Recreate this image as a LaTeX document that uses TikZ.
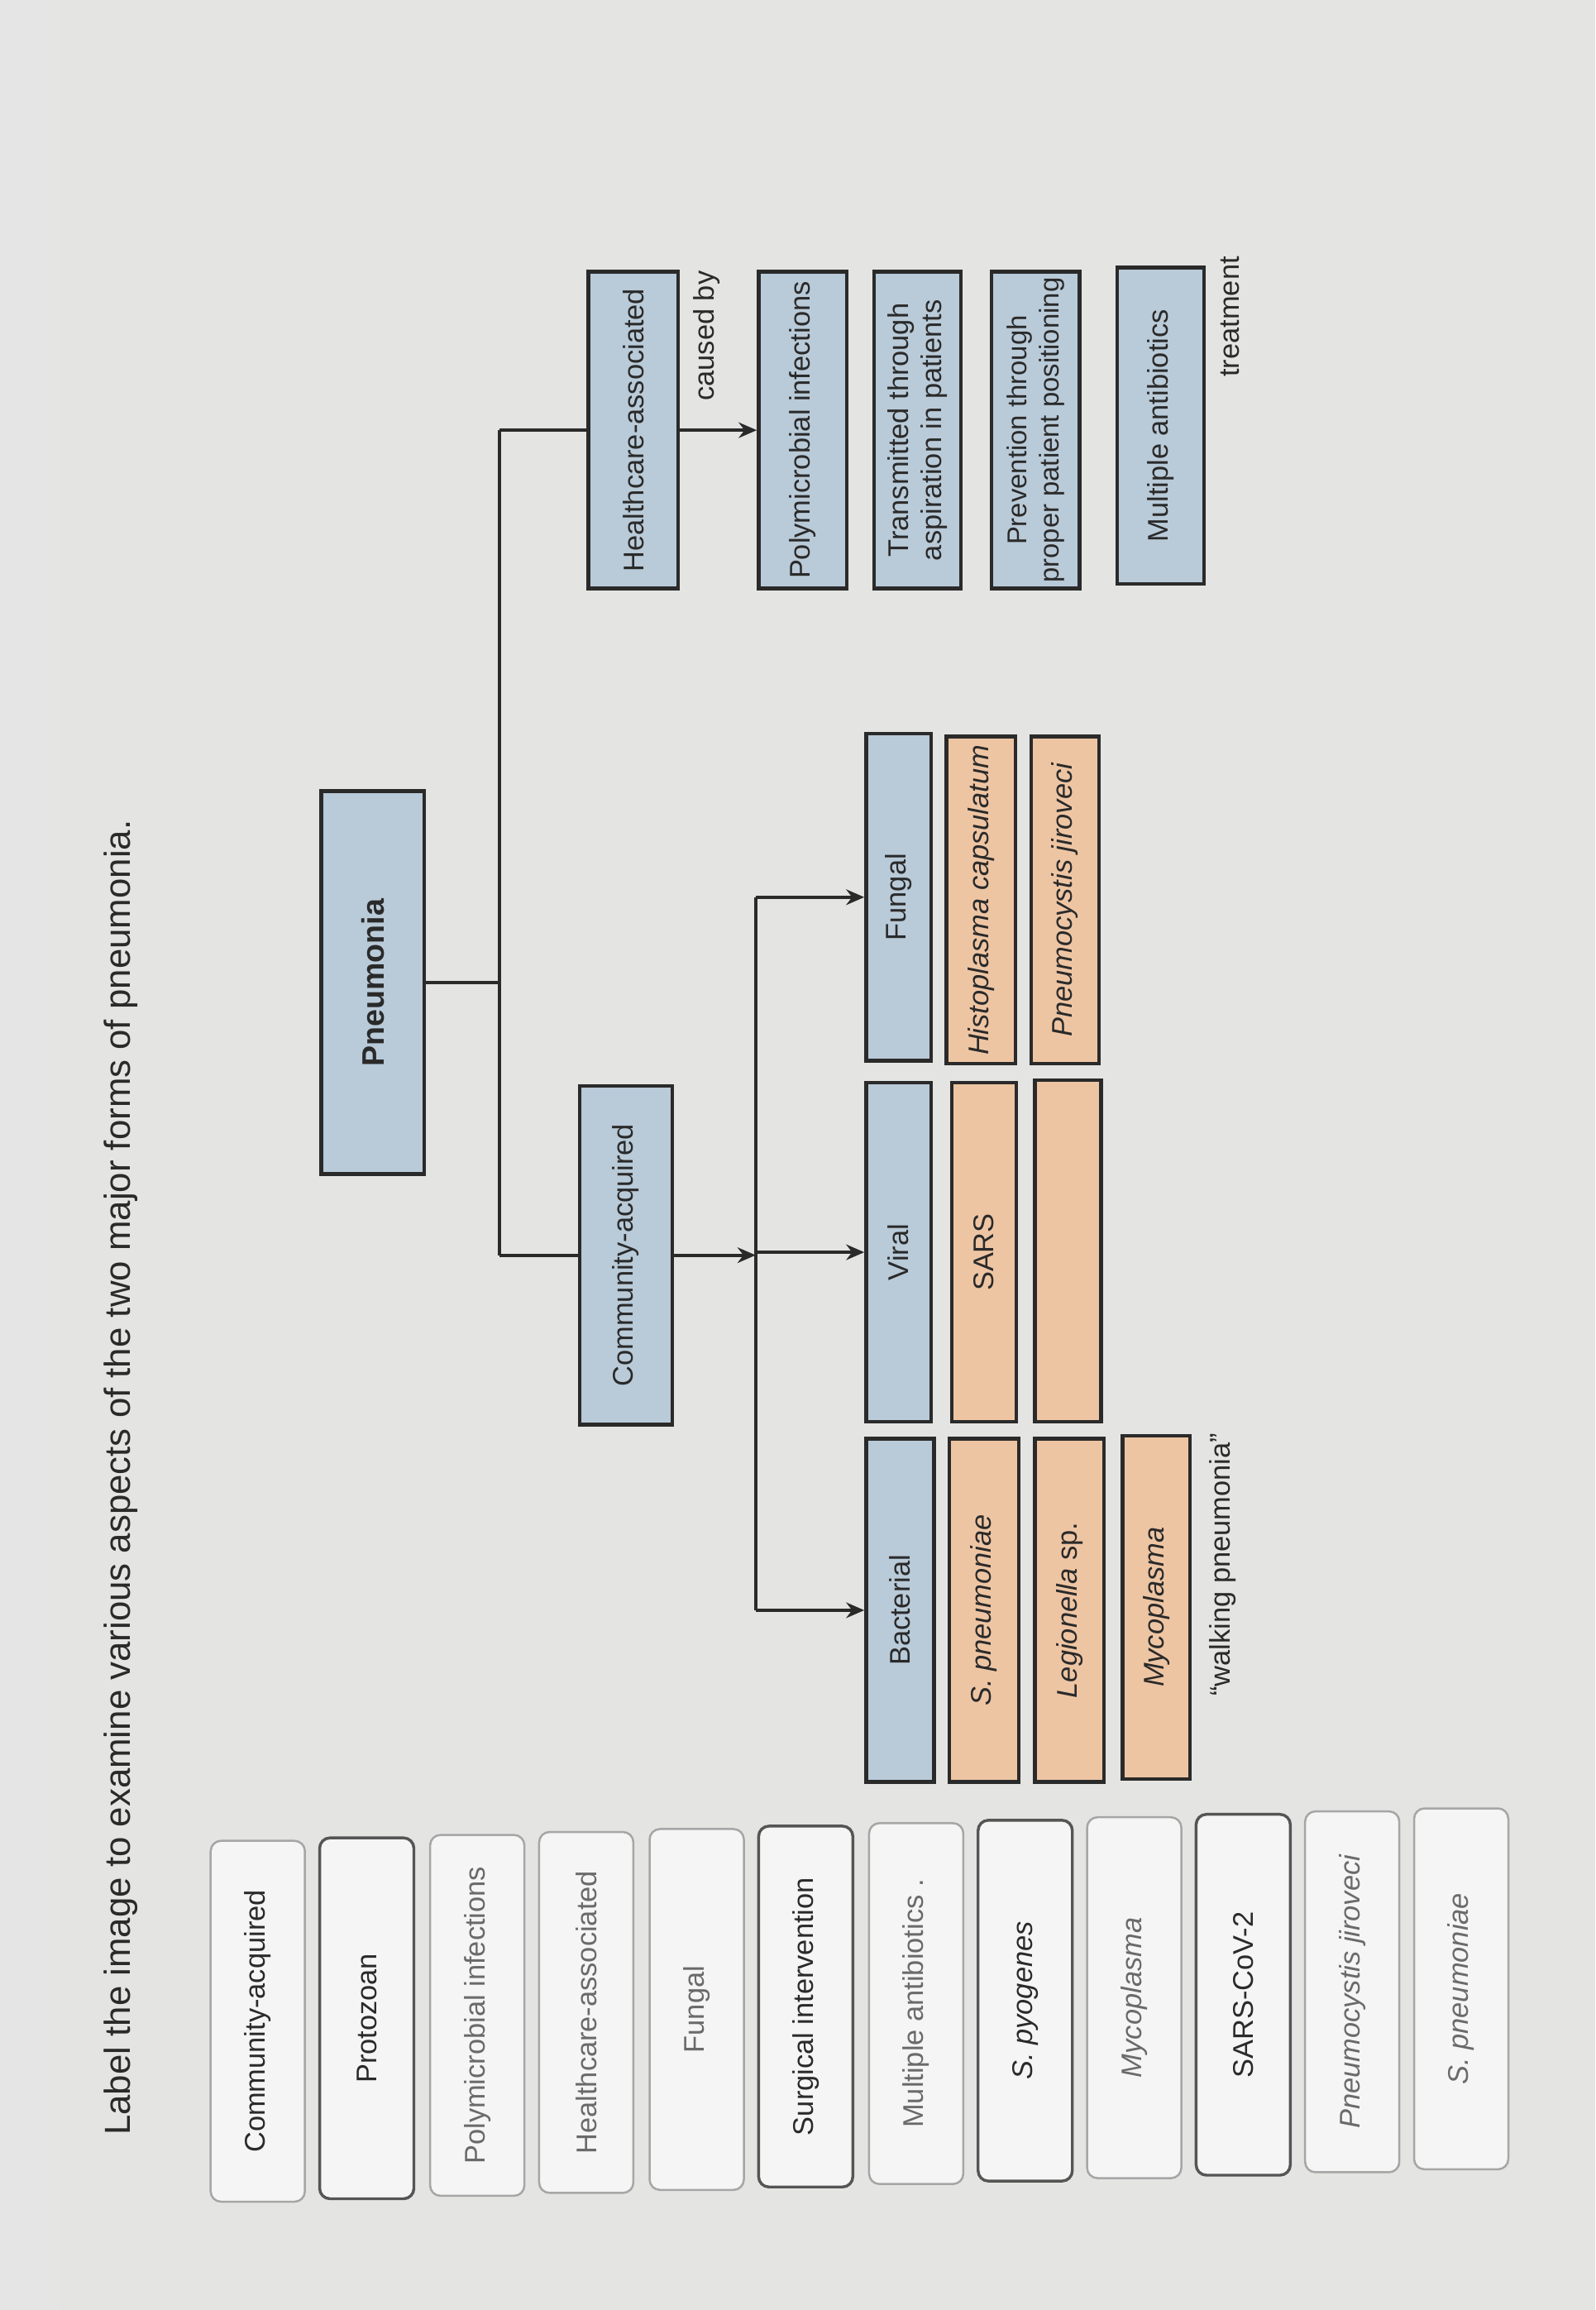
\documentclass[tikz,border=0pt]{standalone}
\usepackage{fontspec}
\setmainfont{Liberation Sans}
\usetikzlibrary{arrows.meta}
\definecolor{bg}{HTML}{E4E4E2}
\definecolor{blu}{HTML}{B9CAD8}
\definecolor{ora}{HTML}{EEC5A3}
\definecolor{ink}{HTML}{2A2A2A}
\tikzset{
 every node/.style={rotate=90,inner sep=0pt,align=center,text=ink},
 bbox/.style={draw=ink,line width=1.4pt,fill=blu,font=\fontsize{11}{13}\selectfont},
 obox/.style={draw=ink,line width=1.4pt,fill=ora,font=\fontsize{11}{13}\selectfont},
 tile/.style={draw=gray!70,line width=0.8pt,rounded corners=4pt,fill=gray!8,minimum width=4.9cm,minimum height=1.28cm,font=\fontsize{11}{13}\selectfont},
 dtile/.style={tile,draw=ink!80,line width=1.1pt},
 conn/.style={draw=ink,line width=1.2pt},
 arr/.style={conn,-{Stealth[length=7pt,width=6pt]}},
 lbl/.style={font=\fontsize{11}{13}\selectfont}
}
\begin{document}
\begin{tikzpicture}[x=0.02cm,y=-0.02cm]
\fill[bg] (0,0) rectangle (1083,1568);
\fill[gray!20] (0,0) rectangle (40,1568);
\node[font=\fontsize{14}{16}\selectfont] (title) at (82,1003) {Label the image to examine various aspects of the two major forms of pneumonia.};
% tiles
\node[tile] (t1) at (175,1372) {Community-acquired};
\node[dtile] (t2) at (249,1370) {Protozoan};
\node[tile,text=ink!70] (t3) at (324,1368) {Polymicrobial infections};
\node[tile,text=ink!70] (t4) at (398,1366) {Healthcare-associated};
\node[tile,text=ink!70] (t5) at (473,1364) {Fungal};
\node[dtile] (t6) at (547,1362) {Surgical intervention};
\node[tile,text=ink!70] (t7) at (622,1360) {Multiple antibiotics .};
\node[dtile] (t8) at (696,1358) {\itshape S. pyogenes};
\node[tile,text=ink!70] (t9) at (770,1356) {\itshape Mycoplasma};
\node[dtile] (t10) at (844,1354) {SARS-CoV-2};
\node[tile,text=ink!70] (t11) at (918,1352) {\itshape Pneumocystis jiroveci};
\node[tile,text=ink!70] (t12) at (992,1350) {\itshape S. pneumoniae};
% main
\node[bbox,minimum width=5.2cm,minimum height=1.4cm,font=\bfseries\fontsize{12}{14}\selectfont] (pn) at (253,667) {Pneumonia};
\node[bbox,minimum width=4.6cm,minimum height=1.26cm] (ca) at (425,852) {Community-acquired};
\node[bbox,minimum width=4.3cm,minimum height=1.22cm] (hc) at (430,292) {Healthcare-associated};
\node[bbox,minimum width=4.66cm,minimum height=0.92cm] (ba) at (611,1093) {Bacterial};
\node[bbox,minimum width=4.6cm,minimum height=0.88cm] (vi) at (610,850) {Viral};
\node[bbox,minimum width=4.44cm,minimum height=0.88cm] (fu) at (610,609) {Fungal};
\node[obox,minimum width=4.66cm,minimum height=0.94cm] (o1) at (668,1093) {\itshape S. pneumoniae};
\node[obox,minimum width=4.66cm,minimum height=0.94cm] (o2) at (726,1093) {\itshape Legionella\upshape\ sp.};
\node[obox,minimum width=4.66cm,minimum height=0.92cm] (o3) at (785,1091) {\itshape Mycoplasma};
\node[obox,minimum width=4.6cm,minimum height=0.88cm] (o4) at (668,850) {SARS};
\node[obox,minimum width=4.64cm,minimum height=0.9cm] (o5) at (725,849) {};
\node[obox,minimum width=4.44cm,minimum height=0.94cm] (o6) at (666,611) {\itshape Histoplasma capsulatum};
\node[obox,minimum width=4.44cm,minimum height=0.92cm] (o7) at (723,611) {\itshape Pneumocystis jiroveci};
\node[lbl] (wp) at (830,1062) {“walking pneumonia”};
\node[lbl] (cb) at (480,228) {caused by};
\node[bbox,minimum width=4.3cm,minimum height=1.2cm] (h1) at (545,292) {Polymicrobial infections};
\node[bbox,minimum width=4.3cm,minimum height=1.18cm] (h2) at (623,292) {Transmitted through\\aspiration in patients};
\node[bbox,minimum width=4.3cm,minimum height=1.2cm,font=\fontsize{10.5}{12.5}\selectfont] (h3) at (703,292) {Prevention through\\proper patient positioning};
\node[bbox,minimum width=4.3cm,minimum height=1.18cm] (h4) at (788,289) {Multiple antibiotics};
\node[lbl] (tr) at (835,215) {treatment};
% connectors
\coordinate (s1) at (339,0);
\coordinate (s2) at (513,0);
\draw[conn] (pn.south) -- (pn.south -| s1);
\draw[conn] (hc.north -| s1) -- (ca.north -| s1);
\draw[conn] (hc.north -| s1) -- (hc.north);
\draw[conn] (ca.north -| s1) -- (ca.north);
\draw[arr] (ca.south) -- (ca.south -| s2);
\draw[conn] (fu.north -| s2) -- (ba.north -| s2);
\draw[arr] (ba.north -| s2) -- (ba.north);
\draw[arr] (vi.north -| s2) -- (vi.north);
\draw[arr] (fu.north -| s2) -- (fu.north);
\draw[arr] (hc.south) -- (h1.north);
\end{tikzpicture}
\end{document}
